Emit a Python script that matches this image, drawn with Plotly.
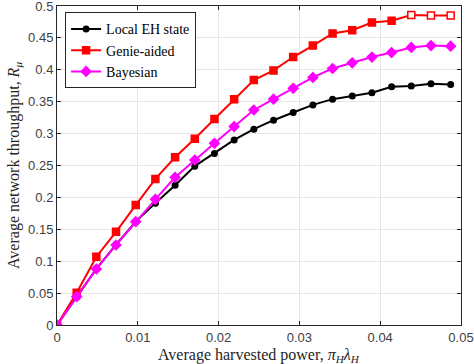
import plotly.graph_objects as go

x_vals = [k * 0.002436 for k in range(21)]
local_eh = [0, 0.044, 0.088, 0.126, 0.162, 0.191, 0.219, 0.249, 0.269, 0.290, 0.307,
            0.321, 0.333, 0.345, 0.354, 0.359, 0.364, 0.3735, 0.3746, 0.378, 0.377]
genie = [0, 0.0506, 0.107, 0.146, 0.188, 0.229, 0.263, 0.292, 0.323, 0.354, 0.384,
         0.399, 0.420, 0.438, 0.457, 0.462, 0.474, 0.477, 0.486, 0.485, 0.485]
bayes = [0, 0.0444, 0.0878, 0.1254, 0.162, 0.197, 0.2315, 0.2586, 0.2847, 0.311, 0.337,
         0.354, 0.371, 0.388, 0.402, 0.411, 0.420, 0.427, 0.435, 0.438, 0.437]
names = ["Local EH state", "Genie-aided", "Bayesian"]
x_ticks = [0, 0.01, 0.02, 0.03, 0.04, 0.05]
x_tick_text = ["0", "0.01", "0.02", "0.03", "0.04", "0.05"]
y_ticks = [0, 0.05, 0.1, 0.15, 0.2, 0.25, 0.3, 0.35, 0.4, 0.45, 0.5]
y_tick_text = ["0", "0.05", "0.1", "0.15", "0.2", "0.25", "0.3", "0.35", "0.4", "0.45", "0.5"]
x_title = "Average harvested power, <i>π<sub>H</sub>λ<sub>H</sub></i>"
y_title = "Average network throughput, <i>R<sub>μ</sub></i>"

serif = "Liberation Serif"
sans = "Liberation Sans"

fig = go.Figure()
fig.add_trace(go.Scatter(x=x_vals, y=local_eh, name=names[0], mode="lines+markers",
                         line=dict(color="black", width=2),
                         marker=dict(symbol="circle", size=7, color="black")))
red_fill = ["#ff0000"] * (len(genie) - 3) + ["white"] * 3
fig.add_trace(go.Scatter(x=x_vals, y=genie, name=names[1], mode="lines+markers",
                         line=dict(color="#ff0000", width=2),
                         marker=dict(symbol="square", size=7, color=red_fill,
                                     line=dict(color="#ff0000", width=1.5))))
fig.add_trace(go.Scatter(x=x_vals, y=bayes, name=names[2], mode="lines+markers",
                         line=dict(color="#ff00ff", width=2),
                         marker=dict(symbol="diamond", size=9, color="#ff00ff")))

axis_common = dict(showgrid=True, gridcolor="#e6e6e6", gridwidth=1, zeroline=False,
                   showline=True, linecolor="#262626", linewidth=1, mirror="ticks",
                   ticks="inside", ticklen=4, tickcolor="#262626",
                   ticklabeloverflow="allow", automargin=False,
                   tickfont=dict(family=sans, size=13, color="#404040"))

fig.update_xaxes(range=[0, 0.05], tickvals=x_ticks, ticktext=x_tick_text, **axis_common)
fig.update_yaxes(range=[0, 0.5], tickvals=y_ticks, ticktext=y_tick_text,
                 title=dict(text=y_title,
                            font=dict(family=serif, size=16, color="#262626"), standoff=4),
                 **axis_common)

fig.add_annotation(text=x_title, xref="paper", yref="paper", x=0.5, y=0,
                   xanchor="center", yanchor="top", yshift=-19, showarrow=False,
                   font=dict(family=serif, size=16, color="#262626"))

fig.update_layout(
    width=474, height=364,
    margin=dict(l=57, r=13, t=6, b=39),
    plot_bgcolor="white", paper_bgcolor="white",
    legend=dict(x=0.02, y=0.98, xanchor="left", yanchor="top",
                bgcolor="white", bordercolor="#262626", borderwidth=1,
                font=dict(family=serif, size=14, color="black"),
                tracegroupgap=0, itemwidth=30),
)

fig.write_html("out.html", config={"displayModeBar": False},
               post_script="document.body.style.margin='0';document.body.style.overflow='hidden';")
